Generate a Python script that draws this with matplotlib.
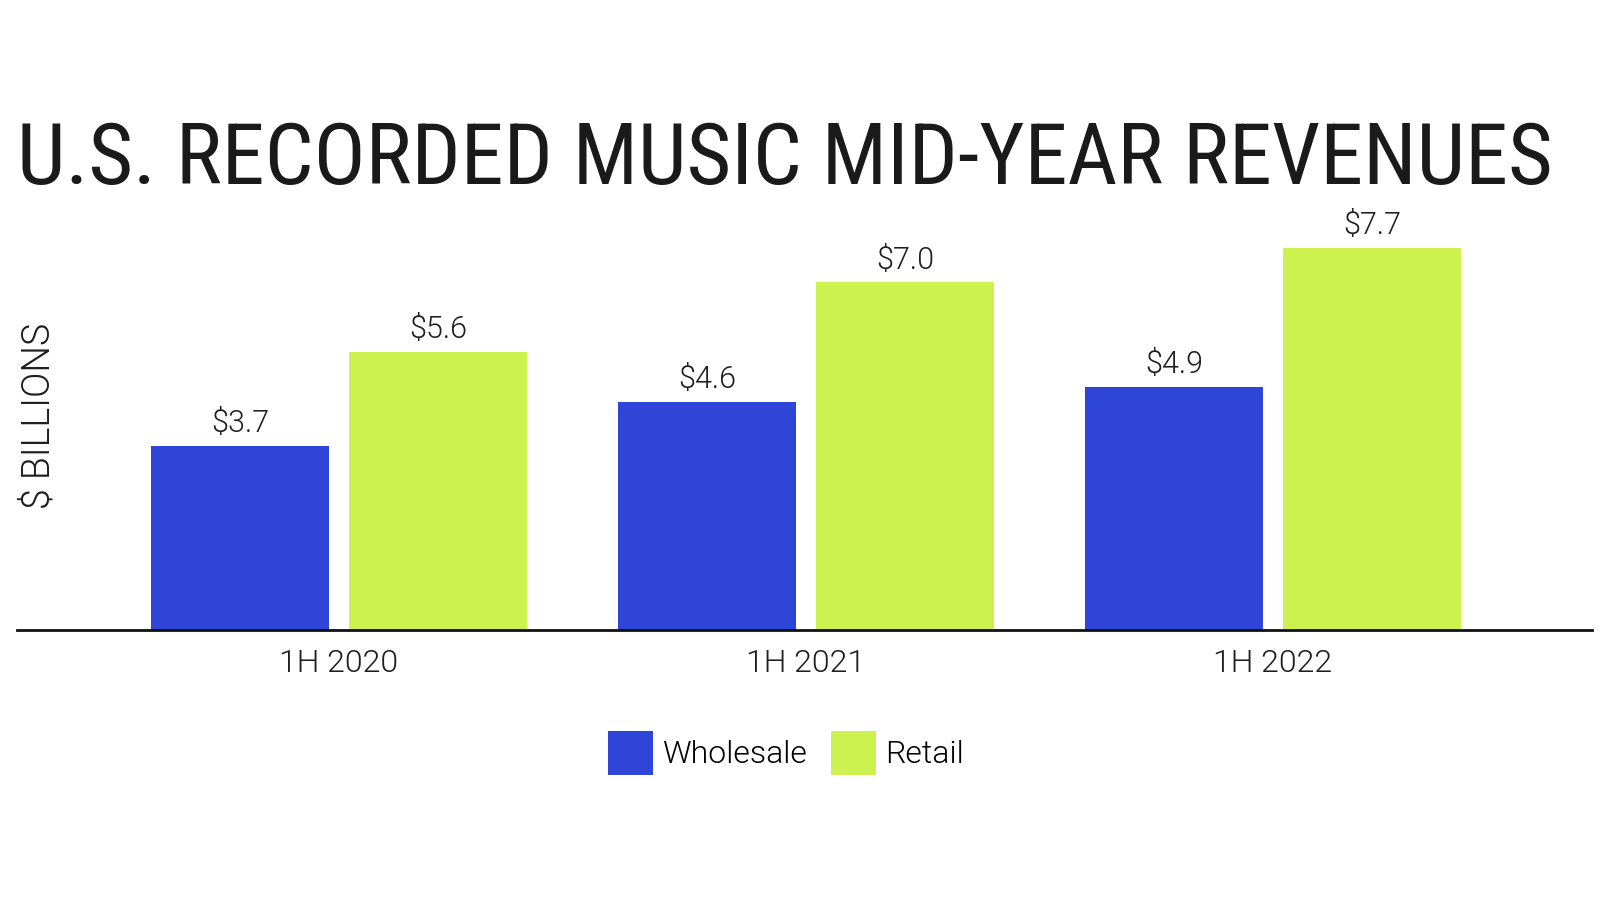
import matplotlib
matplotlib.use("Agg")
import matplotlib.pyplot as plt
from matplotlib import font_manager as fm
from matplotlib.patches import Patch
import numpy as np

categories = ["1H 2020", "1H 2021", "1H 2022"]
wholesale = [3.7, 4.6, 4.9]
retail = [5.6, 7.0, 7.7]
series_names = ["Wholesale", "Retail"]
colors = ["#2F45D8", "#CDF250"]

available = {}
for f in fm.fontManager.ttflist:
    available.setdefault(f.name, set()).add(f.weight)


def pick(cands, default="DejaVu Sans"):
    for c in cands:
        if c in available:
            return c
    return default


title_font = pick(["Roboto Condensed", "Archivo Narrow", "IBM Plex Sans Condensed",
                   "Liberation Sans Narrow", "PT Sans Narrow", "Barlow Condensed",
                   "Open Sans Condensed", "Roboto"])
body_font = pick(["Roboto", "Inter", "Open Sans", "Lato"])
body_weight = 300 if any(w in (300, "light") for w in available.get(body_font, [])) else "normal"

plt.rcParams['font.family'] = [body_font, 'DejaVu Sans']
TXT = "#1e1e1e"

fig = plt.figure(figsize=(16, 9), dpi=100)
ax = fig.add_axes([17/1600, 0.30, (1592-17)/1600, 422/900])

x = np.arange(len(categories))
w = 0.380
off = 0.212
b1 = ax.bar(x - off, wholesale, w, color=colors[0])
b2 = ax.bar(x + off, retail, w, color=colors[1])

for bars, vals in ((b1, wholesale), (b2, retail)):
    for r, v in zip(bars, vals):
        ax.text(r.get_x() + r.get_width()/2, v + 0.16, f"${v:.1f}",
                ha="center", va="bottom", fontsize=22, fontweight=body_weight, color=TXT)

ax.set_xlim(-0.6895, 2.683)
ax.set_ylim(0, 8.5)
ax.set_xticks(x)
ax.set_xticklabels(categories, fontsize=23, fontweight=body_weight, color=TXT)
ax.tick_params(axis="x", length=0, pad=14)
ax.set_yticks([])
for s in ["top", "right", "left"]:
    ax.spines[s].set_visible(False)
ax.spines["bottom"].set_linewidth(2)
ax.spines["bottom"].set_color("#111111")

fig.text(39/1600, 1 - 416/900, "$ BILLIONS", rotation=90, ha="center", va="center",
         fontsize=27, fontweight=body_weight, color=TXT)

title = fig.text(17/1600, 1 - 184/900, "U.S. RECORDED MUSIC MID-YEAR REVENUES",
                 ha="left", va="baseline", fontsize=56, family=[title_font, "DejaVu Sans"],
                 fontweight="normal", color="#1a1a1a")
fig.canvas.draw()
r = fig.canvas.get_renderer()
tw = title.get_window_extent(r).width
title.set_fontsize(min(80, 56 * 1537 / tw))

handles = [Patch(facecolor=colors[0]), Patch(facecolor=colors[1])]
fig.legend(handles, series_names, loc="center", bbox_to_anchor=(786/1600, 1 - 753/900),
           ncol=2, frameon=False, handlelength=1.4, handleheight=1.75,
           handletextpad=0.3, columnspacing=0.75,
           prop={"size": 23, "weight": body_weight, "family": [body_font, "DejaVu Sans"]})

fig.savefig("out.png", dpi=100, facecolor="white")
